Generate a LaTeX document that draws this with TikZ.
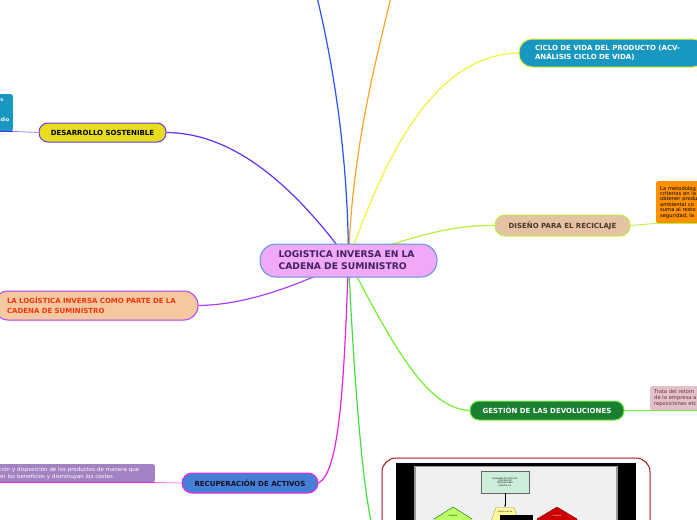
\documentclass[tikz,border=0pt]{standalone}
\usepackage{fontspec}
\setsansfont{DejaVu Sans}
\usetikzlibrary{backgrounds,arrows.meta}
\definecolor{rootfill}{HTML}{F0A8F8}
\definecolor{rootborder}{HTML}{5A96DC}
\definecolor{roottext}{HTML}{44205E}
\definecolor{desfill}{HTML}{E8DC1E}
\definecolor{desborder}{HTML}{6040E0}
\definecolor{cicfill}{HTML}{1898C0}
\definecolor{cicborder}{HTML}{F0F030}
\definecolor{disfill}{HTML}{E4C2A2}
\definecolor{disborder}{HTML}{B8F040}
\definecolor{distext}{HTML}{4A3828}
\definecolor{gesfill}{HTML}{1A8030}
\definecolor{gesborder}{HTML}{70F040}
\definecolor{logfill}{HTML}{F4C8A0}
\definecolor{logborder}{HTML}{B040F0}
\definecolor{logtext}{HTML}{FF3410}
\definecolor{recfill}{HTML}{4680D6}
\definecolor{recborder}{HTML}{F020F0}
\definecolor{rectext}{HTML}{101028}
\definecolor{noteteal}{HTML}{1898C0}
\definecolor{noteorange}{HTML}{FF9000}
\definecolor{notepink}{HTML}{E2C2CA}
\definecolor{pinktext}{HTML}{702838}
\definecolor{notepurple}{HTML}{A282C2}
\definecolor{lblue}{HTML}{2454FF}
\definecolor{lorange}{HTML}{FFA428}
\definecolor{lyellow}{HTML}{F2F23C}
\definecolor{lyg}{HTML}{B8F040}
\definecolor{lviolet}{HTML}{6430F0}
\definecolor{lpurple}{HTML}{B040F8}
\definecolor{lmag}{HTML}{F020E0}
\definecolor{lgreen}{HTML}{70F030}
\definecolor{lgreen2}{HTML}{40E040}
\definecolor{framered}{HTML}{A01818}
\begin{document}
\begin{tikzpicture}[x=1pt,y=-1pt]
\tikzset{
  mmnode/.style={draw, line width=1pt, inner sep=0pt, font=\sffamily\bfseries\fontsize{7}{9.5}\selectfont},
  notebox/.style={inner ysep=0pt, inner xsep=4pt, align=left, font=\sffamily\fontsize{5.2}{5.4}\selectfont},
  link/.style={line width=1.2pt},
  tiny/.style={inner sep=0pt, align=center, font=\sffamily\fontsize{2}{2.4}\selectfont}
}
\useasboundingbox (0,0) rectangle (697,520);

% nodes
\node[mmnode, fill=rootfill, draw=rootborder, text=roottext, minimum width=177pt, minimum height=33pt, rounded corners=16pt, text width=140pt, align=left, font=\sffamily\bfseries\fontsize{9.2}{12}\selectfont] (root) at (348.5,260.5) {LOGISTICA INVERSA EN LA\\CADENA DE SUMINISTRO};

\node[mmnode, fill=desfill, draw=desborder, minimum width=127pt, minimum height=19pt, rounded corners=9pt] (des) at (102.5,132.5) {DESARROLLO SOSTENIBLE};

\node[mmnode, fill=cicfill, draw=cicborder, text=white, minimum width=187pt, minimum height=28pt, rounded corners=13pt, text width=155pt, align=left] (cic) at (612.5,53) {CICLO DE VIDA DEL PRODUCTO (ACV-\\ANÁLISIS CICLO DE VIDA)};

\node[mmnode, fill=disfill, draw=disborder, text=distext, minimum width=135pt, minimum height=21pt, rounded corners=10pt] (dis) at (562.5,225.5) {DISEÑO PARA EL RECICLAJE};

\node[mmnode, fill=gesfill, draw=gesborder, text=white, minimum width=154pt, minimum height=19pt, rounded corners=9pt] (ges) at (547,410.5) {GESTIÓN DE LAS DEVOLUCIONES};

\node[mmnode, fill=logfill, draw=logborder, text=logtext, minimum width=204pt, minimum height=29pt, rounded corners=14pt, text width=178pt, align=left] (log) at (96,305.5) {LA LOGÍSTICA INVERSA COMO PARTE DE LA\\CADENA DE SUMINISTRO};

\node[mmnode, fill=recfill, draw=recborder, text=rectext, minimum width=136pt, minimum height=20pt, rounded corners=10pt] (rec) at (250,483) {RECUPERACIÓN DE ACTIVOS};

% notes
\node[fill=noteteal, minimum width=45pt, minimum height=37pt, anchor=north east, rounded corners=2pt, inner sep=0pt] (n1) at (13,94) {};
\node[inner sep=0pt, anchor=east, text=white, font=\sffamily\bfseries\fontsize{5}{6}\selectfont] (n1a) at (3.5,100) {s};
\node[inner sep=0pt, anchor=east, text=white, font=\sffamily\bfseries\fontsize{5}{6}\selectfont] (n1b) at (9.5,120) {dio};

\node[notebox, fill=noteorange, text=black, text width=64pt, minimum height=42pt, anchor=north west, rounded corners=1.5pt] (n2) at (656,181) {La metodolog\\criterios en la\\obtener produ\\ambiental co\\suma al resto\\seguridad, la};

\node[notebox, fill=notepink, text=pinktext, text width=64pt, minimum height=24pt, anchor=north west, rounded corners=1.5pt, font=\sffamily\fontsize{5.2}{6.3}\selectfont] (n3) at (650,386) {Trata del retorn\\de la empresa a\\reposiciones etc};

\node[notebox, fill=notepurple, text=white, text width=155pt, minimum height=18pt, anchor=north east, inner xsep=1pt, rounded corners=1.5pt, font=\sffamily\fontsize{5.5}{7}\selectfont] (n4) at (155,464) {ción y disposición de los productos de manera que\\en los beneficios y disminuyan los costos};

% image frame
\node[draw=framered, line width=1pt, fill=white, rounded corners=14pt, minimum width=268pt, minimum height=182pt, inner sep=0pt] (img) at (516,549) {};
\fill[black] (396,463) rectangle (636,545);
\draw[fill=black!6, draw=black!40, line width=1.5pt] (415,466.5) rectangle (617,545);
\node[draw=black!60, fill=cyan!25!green!20!white, line width=0.4pt, minimum width=48pt, minimum height=22pt, tiny, text width=44pt] (imgt) at (505,482) {DIAGRAMA DE FLUJO DEL\\PROCESO DE\\DEVOLUCIONES\\(GRUPO) S.A};
\coordinate (imga) at (505,507);
\draw[-{Stealth[length=2pt]}, line width=0.4pt] (imgt) -- (imga);
\filldraw[fill=yellow!40!white, draw=black!40!yellow, line width=0.4pt] (496,507.5) -- (514,507.5) -- (519,522) -- (491,522) -- cycle;
\node[tiny] (imgy) at (505,512) {Cliente solicita};
\fill[black] (500,515) rectangle (533,525);
\filldraw[fill=green!45!yellow!60!white, draw=green!40!black, line width=0.4pt] (453,507) -- (472,519) -- (472,525) -- (434,525) -- (434,519) -- cycle;
\node[tiny] (imgg) at (453,516) {Producto};
\filldraw[fill=red!80!black, draw=red!50!black, line width=0.4pt] (557,507) -- (577,519) -- (577,525) -- (537,525) -- (537,519) -- cycle;
\node[tiny, text=white] (imgr) at (557,516) {Producto};

\coordinate (topA) at (317,-3);
\coordinate (topB) at (391,-3);

% connectors
\begin{scope}[on background layer]
\fill[white] (0,0) rectangle (697,520);
\draw[link, color=lblue] (root.center) .. controls (348,150) and (332,60) .. (topA);
\draw[link, color=lorange] (root.center) .. controls (352,150) and (376,60) .. (topB);
\draw[link, color=lyellow] (root.center) .. controls (390,140) and (440,55) .. (cic.west);
\draw[link, color=lyg] (root.center) .. controls (420,232) and (460,225) .. (dis.west);
\draw[link, color=lviolet] (root.center) .. controls (290,180) and (230,133) .. (des.east);
\draw[link, color=lpurple] (root.center) .. controls (290,290) and (240,305) .. (log.east);
\draw[link, color=lmag] (root.center) .. controls (344,380) and (340,472) .. (rec.east);
\draw[link, color=lgreen] (root.center) .. controls (400,360) and (430,408) .. (ges.west);
\draw[link, color=lgreen2] (root.center) .. controls (355,400) and (366,540) .. (img.west);
\end{scope}

% note connectors
\draw[line width=0.8pt, color=lviolet!60!white] (des.west) -- (n1.south east);
\draw[line width=1.2pt, color=lviolet!80!blue] (n1.south east) -- (n1.south west);
\draw[line width=0.8pt, color=lyg] (dis.east) -- (n2.south west) -- (n2.south east);
\draw[line width=0.8pt, color=lgreen] (ges.east) -- (n3.south west) -- (n3.south east);
\draw[line width=0.8pt, color=lmag!60!white] (rec.west) -- (n4.south east);
\draw[line width=1.2pt, color=lmag] (n4.south east) -- (n4.south west);
\end{tikzpicture}
\end{document}
